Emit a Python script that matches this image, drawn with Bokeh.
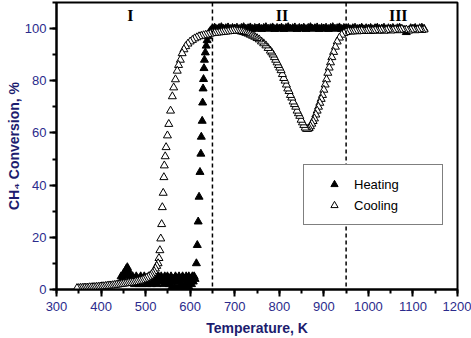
from bokeh.plotting import figure
from bokeh.models import (Legend, LegendItem, Span, SingleIntervalTicker, Label)
from bokeh.embed import file_html
from bokeh.resources import INLINE

# ---------------- data ----------------
heating_T = [
    445, 447, 450, 452, 455, 457, 459, 461, 463, 465, 467, 469, 471, 473, 475, 477, 479,
    481, 483, 485, 487, 489, 491, 493, 495, 497, 499, 501, 503, 505, 507, 509, 511, 513,
    515, 517, 519, 521, 523, 525, 527, 529, 531, 533, 535, 537, 539, 541, 543, 545, 547,
    549, 551, 553, 555, 557, 559, 561, 563, 565, 567, 569, 571, 573, 575, 577, 579, 581,
    583, 585, 587, 589, 591, 593, 595, 597, 599, 601, 603, 605, 607, 609, 611,
    614, 616, 618, 620, 622, 624, 625, 627, 628, 629, 630, 631, 632, 634, 636, 638, 640,
    643, 646,
    650, 655, 660, 665, 670, 675, 680, 685, 690, 695,
    700, 705, 710, 715, 720, 725, 730, 735, 740, 745,
    750, 755, 760, 765, 770, 775, 780, 785, 790, 795,
    800, 805, 810, 815, 820, 825, 830, 835, 840, 845,
    850, 855, 860, 865, 870, 875, 880, 885, 890, 895,
    900, 905, 910, 915, 920, 925, 930, 935, 940, 945,
    950, 955, 960, 965, 970, 975, 980, 985, 990, 995,
    1000, 1005, 1010, 1015, 1020, 1025, 1030, 1035, 1040, 1045,
    1050, 1055, 1060, 1065, 1070, 1075, 1080, 1085, 1090, 1095,
    1100, 1105, 1110, 1115, 1120, 1125,
]
heating_y = [
    5, 4, 6, 5, 7, 8, 8.5, 7.5, 6, 5, 4, 3, 5, 4, 2, 4, 5,
    3, 4, 2, 4, 5, 3, 2, 4, 5, 3, 4, 2, 4, 5, 3, 4, 2,
    5, 4, 3, 5, 4, 2, 4, 5, 3, 4, 5, 3, 4, 2, 5, 4, 3,
    5, 4, 2, 4, 5, 1, 3, 4, 1, 5, 4, 0.5, 3, 5, 1, 4, 2,
    5, 0.5, 4, 2, 5, 1, 3, 5, 0.5, 4, 2, 5, 3, 5, 4,
    10, 17, 26, 35.5, 45, 52, 58.5, 64.6, 71.6, 77, 80.6, 84.8, 88, 90.8, 93.4, 95.5, 97,
    98.5, 99.3,
    100.0, 100.3, 99.8, 100.2, 100.5, 99.9, 100.1, 100.4, 99.8, 100.2,
    100.0, 100.3, 99.8, 100.2, 100.5, 99.9, 100.1, 100.4, 99.8, 100.2,
    100.0, 100.3, 99.8, 100.2, 100.5, 99.9, 100.1, 100.4, 99.8, 100.2,
    100.0, 100.3, 99.8, 100.2, 100.5, 99.9, 100.1, 100.4, 99.8, 100.2,
    100.0, 100.3, 99.8, 100.2, 100.5, 99.9, 100.1, 100.4, 99.8, 100.2,
    100.0, 100.3, 99.8, 100.2, 100.5, 99.9, 100.1, 100.4, 99.8, 100.2,
    100.0, 100.2, 99.7, 100.1, 100.3, 99.8, 100.0, 100.3, 99.7, 100.1,
    99.9, 100.2, 99.7, 100.1, 100.3, 99.8, 100.0, 100.3, 99.7, 100.1,
    99.9, 100.2, 99.7, 100.1, 100.3, 99.8, 99.4, 98.6, 99.3, 100.1,
    99.9, 100.2, 99.7, 100.1, 100.3, 99.9,
]

cooling_T = [
    1125, 1120, 1115, 1110, 1105, 1100, 1095, 1090, 1085, 1080, 1075, 1070, 1065, 1060,
    1055, 1050, 1045, 1040, 1035, 1030, 1025, 1020, 1015, 1010, 1005, 1000, 995, 990,
    985, 980, 975, 970, 965, 960, 955,
    950, 945, 940, 935, 930, 926, 922, 918, 915, 912, 909, 906, 903, 900, 897, 894, 891,
    888, 885, 882, 879, 876, 873, 870, 867, 864, 861, 858, 855, 852, 849, 846, 843, 840,
    837, 834, 831, 828, 825, 822, 819, 816, 813, 810, 807, 804, 801, 798, 795, 792, 789,
    786, 783, 780, 775, 770, 765, 760, 755, 750, 745, 740, 735, 730, 725, 720, 715, 710,
    705, 700, 695, 690, 685, 680, 675, 670, 665, 660, 655, 650, 645, 640, 635, 630, 625,
    620, 615, 610, 605, 600, 595, 590, 586, 582, 578, 574, 571, 567, 563, 560, 556, 552,
    549, 546, 544, 542, 541, 539.5, 537.5, 536, 534, 532, 530, 528, 525, 522, 519, 516,
    513, 510, 506, 502, 498, 494, 490, 486, 482, 478, 474, 470, 466, 462, 458, 454, 450,
    446, 442, 438, 434, 430, 426, 422, 418, 414, 410, 406, 402, 398, 394, 390, 386, 382,
    378, 374, 370, 366, 362, 358, 354, 350, 346,
]
cooling_y = [
    99.6, 99.4, 99.8, 99.5, 99.3, 99.7, 99.5, 99.2, 99.6, 99.4, 99.8, 99.5, 99.3, 99.6,
    99.4, 99.2, 99.6, 99.4, 99.1, 99.5, 99.3, 99.1, 99.4, 99.2, 99.0, 99.3, 99.1, 99.0,
    99.2, 99.0, 98.9, 99.1, 98.9, 98.8, 98.9,
    98.6, 98.2, 97.6, 96.5, 95.0, 93.0, 91.0, 89.0, 87.0, 85.0, 83.0, 80.5, 78.5, 76.5,
    74.5, 73.0, 71.5, 70.0, 68.5, 67.0, 65.5, 64.5, 63.5, 62.5, 61.8, 61.5, 61.5, 62.0,
    63.0, 64.0, 65.0, 66.5, 67.5, 68.5, 70.0, 71.0, 72.0, 73.5, 74.5, 76.0, 77.0, 78.5,
    80.0, 81.0, 82.5, 84.0, 85.0, 86.0, 87.0, 88.0, 89.0, 90.0, 90.8, 91.5, 92.5, 93.5,
    94.3, 95.0, 95.8, 96.3, 96.8, 97.2, 97.6, 98.0, 98.3, 98.6, 98.8, 99.0, 99.1, 99.2,
    99.1, 99.0, 98.9, 98.8, 98.7, 98.6, 98.5, 98.4, 98.3, 98.2, 98.0, 97.8, 97.6, 97.4,
    97.2, 97.0, 96.6, 96.2, 95.6, 95.0, 94.2, 93.2, 92.0, 90.5, 88.0, 86.0, 83.8, 80.5,
    77.4, 74.0, 68.5, 63.4, 59.0, 54.5, 51.0, 47.5, 43.0, 37.0, 31.5, 25.0, 19.5, 15.0,
    12.0, 10.0, 9.0, 8.0, 7.0, 6.3, 5.7, 5.2, 4.8, 4.4, 4.0, 3.8, 3.5, 3.3, 3.1, 3.0, 2.8,
    2.7, 2.6, 2.5, 2.4, 2.3, 2.2, 2.1, 2.0, 1.9, 1.8, 1.7, 1.6, 1.5, 1.5, 1.4, 1.3, 1.2,
    1.2, 1.1, 1.0, 1.0, 0.9, 0.9, 0.8, 0.8, 0.7, 0.7, 0.7, 0.6, 0.6, 0.5, 0.5,
]

region_bounds = [650, 950]
region_labels = ["I", "II", "III"]
region_label_T = [466, 806, 1067]
region_label_y = 105

x_label = "Temperature, K"
y_label = "CH\u2084 Conversion, %"

TICK_COLOR = "#2b2b8c"
LABEL_COLOR = "#1c1c6e"
FONT = "Liberation Sans"

# ---------------- figure ----------------
p = figure(width=471, height=338, x_range=(300, 1200), y_range=(0, 110),
           output_backend="svg", toolbar_location=None,
           min_border_left=56, min_border_right=14, min_border_top=2, min_border_bottom=49)

p.xgrid.visible = False
p.ygrid.visible = False
p.background_fill_color = "white"
p.border_fill_color = "white"
p.outline_line_color = "black"
p.outline_line_width = 2

p.xaxis.ticker = SingleIntervalTicker(interval=100, num_minor_ticks=2)
p.yaxis.ticker = SingleIntervalTicker(interval=20, num_minor_ticks=2)

for ax in (p.xaxis, p.yaxis):
    ax.axis_line_width = 2
    ax.axis_line_color = "black"
    ax.major_tick_line_width = 2
    ax.minor_tick_line_width = 2
    ax.major_tick_in = 0
    ax.major_tick_out = 7
    ax.minor_tick_in = 0
    ax.minor_tick_out = 4
    ax.major_label_text_font = FONT
    ax.major_label_text_font_size = "13px"
    ax.major_label_text_color = TICK_COLOR
    ax.axis_label_text_font = FONT
    ax.axis_label_text_font_size = "14px"
    ax.axis_label_text_font_style = "bold"
    ax.axis_label_text_color = LABEL_COLOR

p.xaxis.major_label_standoff = 5
p.yaxis.major_label_standoff = 3
p.xaxis.axis_label = x_label
p.yaxis.axis_label = y_label
p.xaxis.axis_label_standoff = 6
p.yaxis.axis_label_standoff = 0

rh = p.scatter(heating_T, heating_y, marker="triangle", size=8,
               fill_color="black", line_color="black", line_width=1)
rc = p.scatter(cooling_T, cooling_y, marker="triangle", size=8,
               fill_color="white", line_color="black", line_width=1)

for b in region_bounds:
    p.add_layout(Span(location=b, dimension="height", line_color="black",
                      line_width=1.5, line_dash="4 3"))

for t, lab in zip(region_label_T, region_labels):
    p.add_layout(Label(x=t, y=region_label_y, text=lab, text_align="center",
                       text_baseline="middle", text_font="Liberation Serif",
                       text_font_style="bold", text_font_size="16px",
                       text_color="black"))

legend = Legend(items=[LegendItem(label="Heating", renderers=[rh]),
                       LegendItem(label="Cooling", renderers=[rc])],
                location=(247, 64), orientation="vertical",
                border_line_color="black", border_line_width=1,
                background_fill_color="white", background_fill_alpha=1,
                padding=10, glyph_width=40, glyph_height=18, label_standoff=0,
                label_width=78, label_height=18, spacing=3, margin=0,
                label_text_font=FONT, label_text_font_size="13px",
                label_text_color="black")
p.add_layout(legend)

open("out.html", "w").write(file_html(p, INLINE))
